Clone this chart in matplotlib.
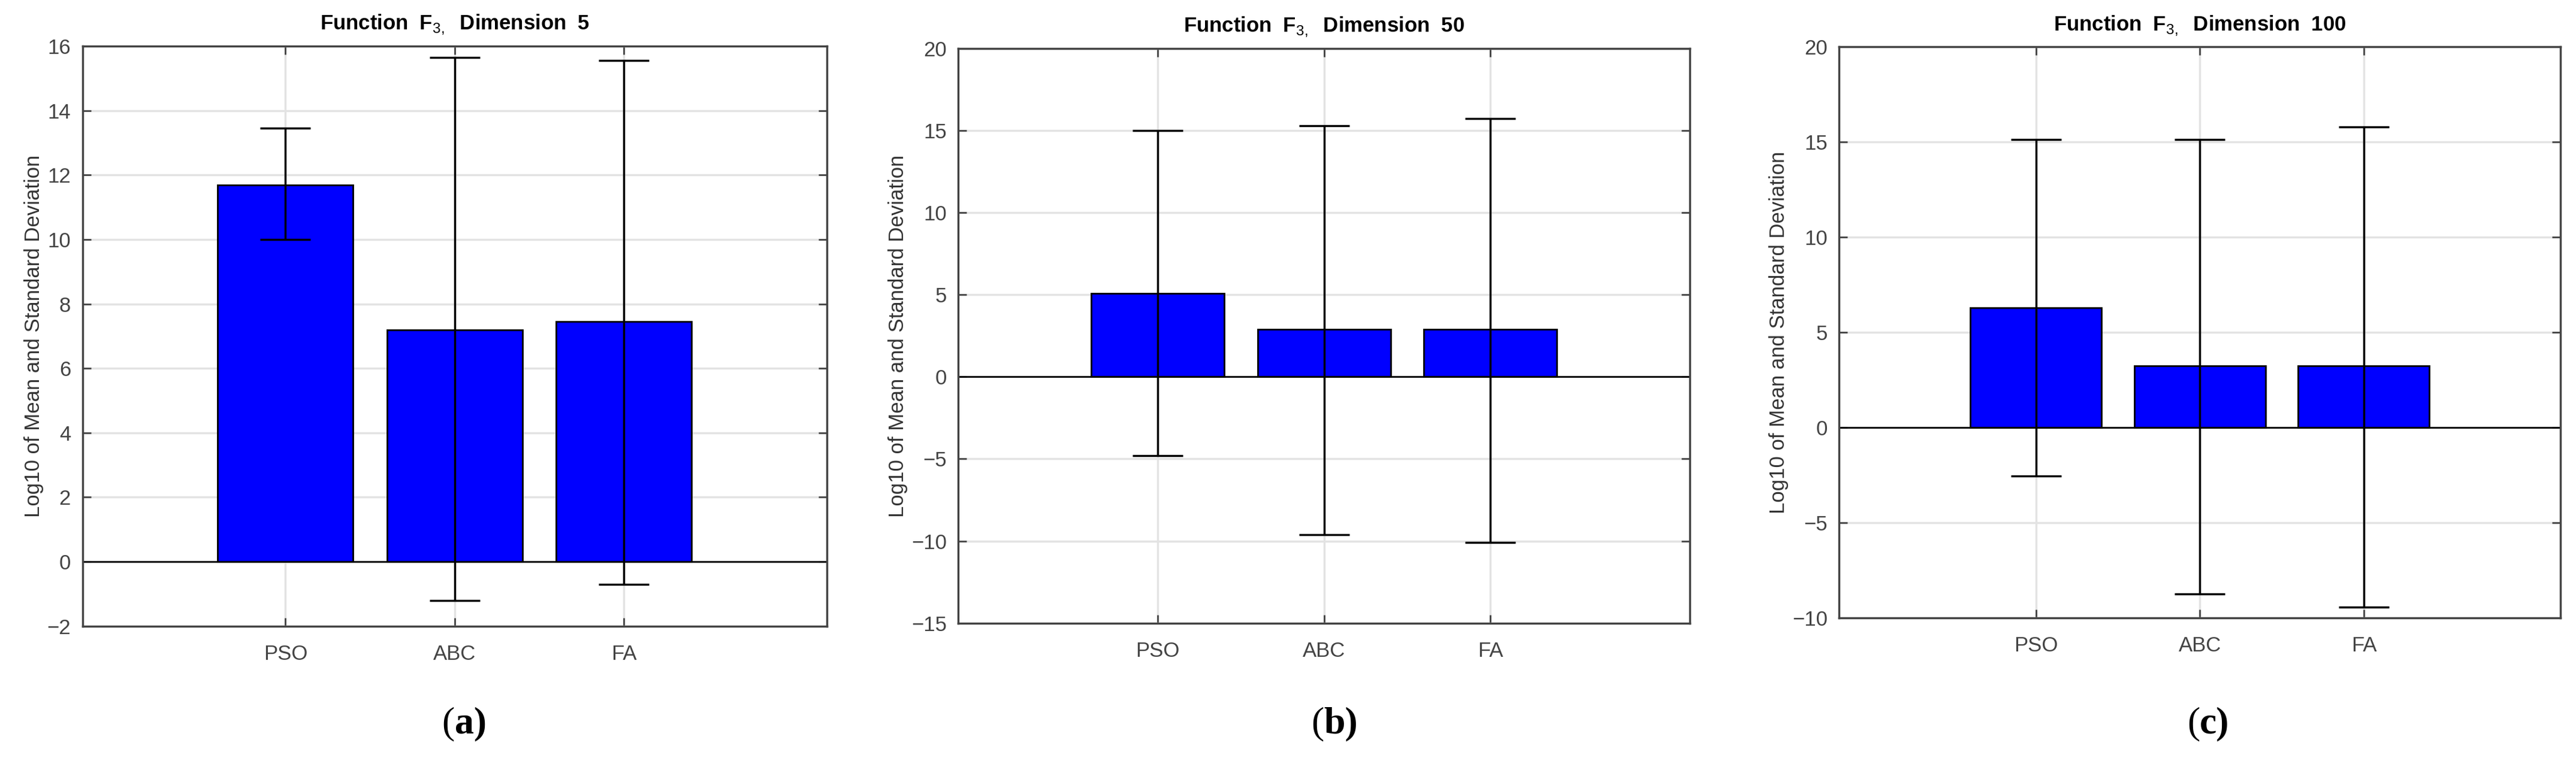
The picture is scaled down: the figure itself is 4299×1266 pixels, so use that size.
import matplotlib
matplotlib.use("Agg")
import matplotlib.pyplot as plt
import numpy as np

plt.rcParams['font.family'] = ['Liberation Sans', 'DejaVu Sans']
plt.rcParams['mathtext.fontset'] = 'custom'
plt.rcParams['mathtext.rm'] = 'Liberation Sans'
plt.rcParams['mathtext.bf'] = 'Liberation Sans:bold'

categories = ["PSO", "ABC", "FA"]
dims = [5, 50, 100]
means = [[11.7, 7.2, 7.45], [5.1, 2.9, 2.9], [6.3, 3.25, 3.25]]
err_low = [[10.0, -1.2, -0.7], [-4.8, -9.6, -10.1], [-2.55, -8.75, -9.45]]
err_high = [[13.45, 15.65, 15.55], [15.0, 15.3, 15.75], [15.15, 15.15, 15.8]]
ylims = [(-2, 16), (-15, 20), (-10, 20)]
yticks = [np.arange(-2, 17, 2), np.arange(-15, 21, 5), np.arange(-10, 21, 5)]
panel_labels = ["a", "b", "c"]

rects = [(0.032, 0.174, 0.289, 0.765), (0.372, 0.178, 0.284, 0.758), (0.714, 0.185, 0.280, 0.753)]

fig = plt.figure(figsize=(42.99, 12.66), dpi=100)
axc = '#444444'
for i in range(3):
    ax = fig.add_axes(rects[i])
    x = np.arange(1, 4)
    m = np.array(means[i])
    lo = m - np.array(err_low[i])
    hi = np.array(err_high[i]) - m
    ax.bar(x, m, width=0.8, color='#0000FF', edgecolor='black', linewidth=2, zorder=2)
    ax.errorbar(x, m, yerr=[lo, hi], fmt='none', ecolor='black', elinewidth=2.5,
                capsize=30, capthick=2.5, zorder=3)
    ax.axhline(0, color='black', linewidth=2, zorder=2.5)
    ax.set_xlim(-0.2, 4.2)
    ax.set_ylim(*ylims[i])
    ax.set_xticks(x)
    ax.set_xticklabels(categories)
    ax.set_yticks(yticks[i])
    ax.grid(True, color='#e3e3e3', linewidth=2.5, zorder=0)
    ax.set_axisbelow(True)
    for s in ax.spines.values():
        s.set_color(axc)
        s.set_linewidth(2.5)
    ax.tick_params(direction='in', length=10, width=2, colors=axc, labelsize=25,
                   right=True, top=True, pad=14)
    ax.tick_params(axis='x', pad=22)
    ax.set_ylabel("Log10 of Mean and Standard Deviation", fontsize=25, color='#333333')
    ax.set_title(r"Function  F$_{3,}$  Dimension  %d" % dims[i], fontsize=25,
                 fontweight='bold', pad=20)
    cx = rects[i][0] + rects[i][2] / 2
    fig.text(cx, 0.045, "(", fontsize=46, family='Liberation Serif', ha='right', va='center')
    fig.text(cx, 0.045, panel_labels[i] + ")", fontsize=46, family='Liberation Serif',
             ha='left', va='center', fontweight='bold')
fig.savefig("out.png", dpi=100, facecolor='white')
